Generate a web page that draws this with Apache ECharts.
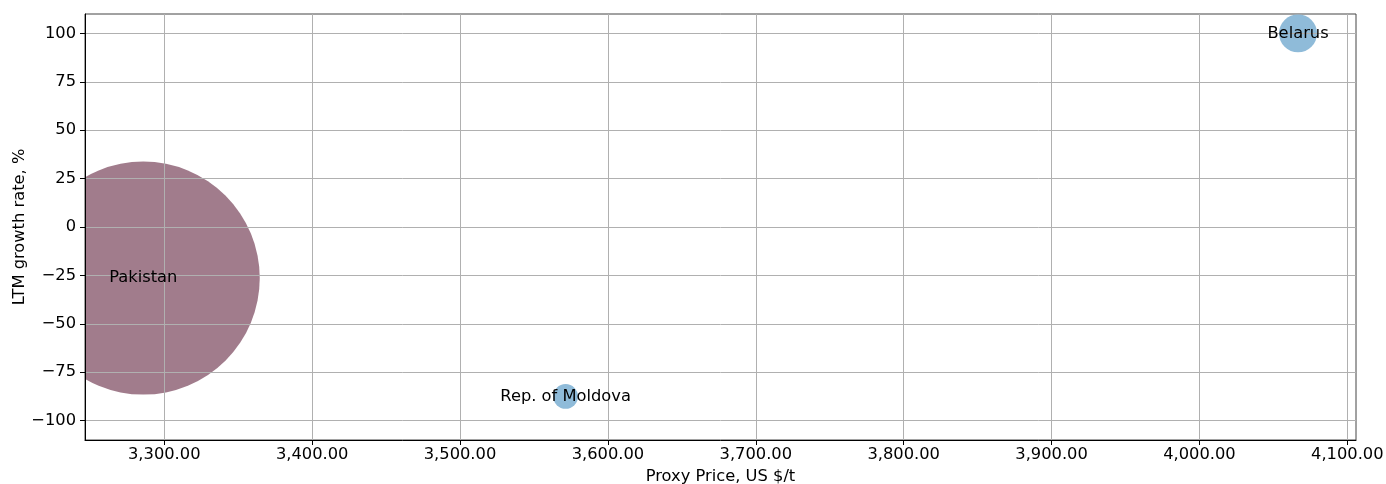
<!DOCTYPE html>
<html>
<head>
<meta charset="utf-8">
<script src="https://cdn.jsdelivr.net/npm/echarts@6/dist/echarts.min.js"></script>
<style>
  html, body { margin: 0; padding: 0; background: #fff; }
  #main { width: 1386px; height: 484px; }
</style>
</head>
<body>
<div id="main"></div>
<script>
// data
var countries = ['Pakistan', 'Belarus', 'Rep. of Moldova'];
var proxyPrice = [3285.8, 4066.7, 3571.4];
var growthRate = [-26.4, 100, -87.5];
var volume = [2035, 54, 23];
var colors = ['#a17c8c', '#8fbbd9', '#8fbbd9'];

var xTicks = [3300, 3400, 3500, 3600, 3700, 3800, 3900, 4000, 4100];
var yTicks = [-100, -75, -50, -25, 0, 25, 50, 75, 100];

var FONT = 'DejaVu Sans';
var FS = 16.3;
var SIZE_K = 5.165;

var points = countries.map(function (name, i) {
    return [proxyPrice[i], growthRate[i], volume[i], i];
});

function fmtPrice(v) {
    var s = v.toFixed(2).split('.');
    return s[0].replace(/\B(?=(\d{3})+(?!\d))/g, ',') + '.' + s[1];
}
function fmtRate(v) {
    return v < 0 ? '\u2212' + (-v) : String(v);
}

function renderBubble(params, api) {
    var c = api.coord([api.value(0), api.value(1)]);
    var r = Math.sqrt(api.value(2)) * SIZE_K / 2;
    return {
        type: 'circle',
        shape: { cx: c[0], cy: c[1], r: r },
        style: { fill: colors[api.value(3)] }
    };
}
function renderLabel(params, api) {
    var c = api.coord([api.value(0), api.value(1)]);
    return {
        type: 'text',
        style: {
            text: countries[api.value(3)],
            x: c[0], y: c[1],
            align: 'center', verticalAlign: 'middle',
            fill: '#000', font: FS + 'px "' + FONT + '"'
        }
    };
}

var myChart = echarts.init(document.getElementById('main'));
var option = {
    animation: false,
    backgroundColor: '#fff',
    textStyle: { fontFamily: FONT },
    grid: {
        left: 85, right: 30, top: 14, bottom: 44,
        outerBoundsMode: 'none',
        containLabel: false,
        show: true, borderColor: '#444', borderWidth: 1
    },
    xAxis: {
        type: 'value',
        min: 3246.4,
        max: 4105.9,
        z: 3,
        name: 'Proxy Price, US $/t',
        nameLocation: 'middle',
        nameGap: 29,
        nameMoveOverlap: false,
        nameTextStyle: { fontSize: FS, color: '#000', fontFamily: FONT },
        axisLine: { show: true, onZero: false, lineStyle: { color: '#000', width: 1 } },
        axisTick: { show: true, length: 5, customValues: xTicks, lineStyle: { color: '#000' } },
        axisLabel: {
            customValues: xTicks, margin: 7, fontSize: FS, color: '#000', fontFamily: FONT,
            formatter: fmtPrice
        },
        splitLine: { show: true, lineStyle: { color: '#b0b0b0', width: 1 } }
    },
    yAxis: {
        type: 'value',
        min: -110,
        max: 110,
        z: 3,
        name: 'LTM growth rate, %',
        nameLocation: 'middle',
        nameRotate: 90,
        nameGap: 57,
        nameMoveOverlap: false,
        nameTextStyle: { fontSize: FS, color: '#000', fontFamily: FONT },
        axisLine: { show: true, onZero: false, lineStyle: { color: '#000', width: 1 } },
        axisTick: { show: true, length: 5, customValues: yTicks, lineStyle: { color: '#000' } },
        axisLabel: {
            customValues: yTicks, margin: 9, fontSize: FS, color: '#000', fontFamily: FONT,
            formatter: fmtRate
        },
        splitLine: { show: true, lineStyle: { color: '#b0b0b0', width: 1 } }
    },
    series: [{
        type: 'custom',
        z: 2,
        clip: true,
        renderItem: renderBubble,
        data: points
    }, {
        type: 'custom',
        z: 5,
        clip: true,
        renderItem: renderLabel,
        data: points
    }]
};
myChart.setOption(option);
</script>
</body>
</html>
